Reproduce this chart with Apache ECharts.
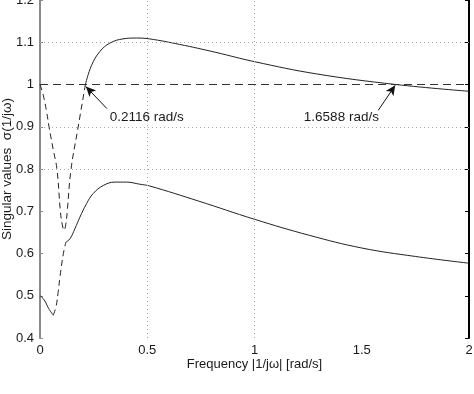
<!DOCTYPE html>
<html>
<head>
<meta charset="utf-8">
<script src="https://cdn.jsdelivr.net/npm/echarts@6/dist/echarts.min.js"></script>
<style>
  html, body { margin: 0; padding: 0; background: #fff; }
  #chart { width: 474px; height: 394px; }
</style>
</head>
<body>
<div id="chart"></div>
<script>
// tick labels
const xTickLabels = ['0', '0.5', '1', '1.5', '2']
const yTickLabels = ['0.4', '0.5', '0.6', '0.7', '0.8', '0.9', '1', '1.1', '1.2']

// largest singular value, [freq, value]
const upperDashed = [
  [0, 1.0], [0.015, 0.975], [0.031, 0.935], [0.042, 0.9], [0.062, 0.845],
  [0.079, 0.8], [0.095, 0.70], [0.104, 0.668], [0.112, 0.655], [0.12, 0.668],
  [0.127, 0.70], [0.144, 0.797], [0.175, 0.891], [0.2116, 1.0]
]
const upperSolid = [
  [0.2116, 1.0], [0.24, 1.045], [0.279, 1.078], [0.326, 1.098], [0.387, 1.108],
  [0.45, 1.11], [0.51, 1.108], [0.65, 1.095], [0.82, 1.076], [1.0, 1.054],
  [1.29, 1.025], [1.6588, 1.0], [2.0, 0.984]
]

// smallest singular value
const lowerSolidA = [[0, 0.5], [0.02, 0.49], [0.04, 0.47], [0.062, 0.454]]
const lowerDashed = [
  [0.062, 0.454], [0.075, 0.475], [0.085, 0.51], [0.093, 0.544],
  [0.109, 0.60], [0.121, 0.627]
]
const lowerSolidB = [
  [0.121, 0.627], [0.14, 0.635], [0.163, 0.659], [0.186, 0.686], [0.217, 0.718],
  [0.248, 0.742], [0.295, 0.761], [0.349, 0.769], [0.403, 0.769], [0.465, 0.764],
  [0.51, 0.760], [0.74, 0.724], [1.0, 0.681], [1.256, 0.643], [1.5, 0.613],
  [1.75, 0.593], [2.0, 0.577]
]

// reference level and crossing annotations
const refLevel = 1
const gridX = [0.5, 1]
const gridY = [0.8, 0.9, 1.1]
const crossLabels = ['0.2116 rad/s', '1.6588 rad/s']
const labelPos = [[0.498, 0.922], [1.405, 0.922]]
const arrowTail = [[0.312, 0.943], [1.577, 0.939]]
const arrowHead = [[0.214, 0.995], [1.656, 0.998]]

const font = '"Liberation Sans", Arial, Helvetica, sans-serif'
const ink = '#1a1a1a'

const chart = echarts.init(document.getElementById('chart'))

const curve = (data, dashed) => ({
  type: 'line',
  data,
  yAxisIndex: 0,
  showSymbol: false,
  smooth: 0.4,
  silent: true,
  lineStyle: { color: '#222', width: 1, type: dashed ? [6, 4] : 'solid' }
})

const guides = {
  type: 'line',
  data: [],
  silent: true,
  markLine: {
    silent: true,
    symbol: 'none',
    label: { show: false },
    lineStyle: { color: '#aaa', width: 1, type: [1, 3] },
    data: [
      ...gridX.map(v => ({ xAxis: v })),
      ...gridY.map(v => ({ yAxis: v })),
      { yAxis: refLevel, lineStyle: { color: '#333', width: 1, type: [8, 5] } },
      ...arrowTail.map((t, i) => [
        { coord: t, symbol: 'none', lineStyle: { color: '#111', width: 1, type: 'solid' } },
        { coord: arrowHead[i], symbol: 'arrow', symbolSize: [7, 10] }
      ])
    ]
  },
  markPoint: {
    silent: true,
    symbol: 'circle',
    symbolSize: 0,
    label: { show: true, position: 'inside', color: ink, fontSize: 13.5, fontFamily: font },
    data: crossLabels.map((t, i) => ({ coord: labelPos[i], value: t, label: { formatter: t } }))
  }
}

const option = {
  animation: false,
  backgroundColor: '#fff',
  grid: { left: 40, right: 5, top: 0, bottom: 56, outerBoundsMode: 'none', containLabel: false },
  xAxis: {
    type: 'value',
    min: 0,
    max: 2,
    interval: 0.5,
    name: 'Frequency |1/jω| [rad/s]',
    nameLocation: 'middle',
    nameGap: 20,
    nameMoveOverlap: false,
    nameTextStyle: { color: ink, fontSize: 13, fontFamily: font },
    axisLine: { show: false },
    axisTick: { show: false },
    splitLine: { show: false },
    axisLabel: {
      color: ink, fontSize: 13, fontFamily: font, margin: 6,
      formatter: v => xTickLabels[Math.round(v / 0.5)]
    }
  },
  yAxis: [
    {
      type: 'value',
      min: 0.4,
      max: 1.2,
      interval: 0.1,
      name: 'Singular values  σ(1/jω)',
      nameLocation: 'middle',
      nameGap: 26,
      nameMoveOverlap: false,
      nameTextStyle: { color: ink, fontSize: 13.5, fontFamily: font },
      axisLine: { show: true, lineStyle: { color: '#8a8a8a', width: 2 } },
      axisTick: { show: true, inside: true, length: 3, lineStyle: { color: '#8a8a8a' } },
      splitLine: { show: false },
      axisLabel: {
        color: ink, fontSize: 13, fontFamily: font, margin: 6,
        formatter: v => yTickLabels[Math.round((v - 0.4) / 0.1)]
      }
    },
    {
      type: 'value',
      position: 'right',
      min: 0.4,
      max: 1.2,
      interval: 0.1,
      axisLine: { show: true, lineStyle: { color: '#000', width: 2 } },
      axisTick: { show: true, inside: true, length: 4, lineStyle: { color: '#000' } },
      axisLabel: { show: false },
      splitLine: { show: false }
    }
  ],
  series: [
    guides,
    curve(upperDashed, true),
    curve(upperSolid, false),
    curve(lowerSolidA, false),
    curve(lowerDashed, true),
    curve(lowerSolidB, false)
  ]
}

chart.setOption(option)
</script>
</body>
</html>
